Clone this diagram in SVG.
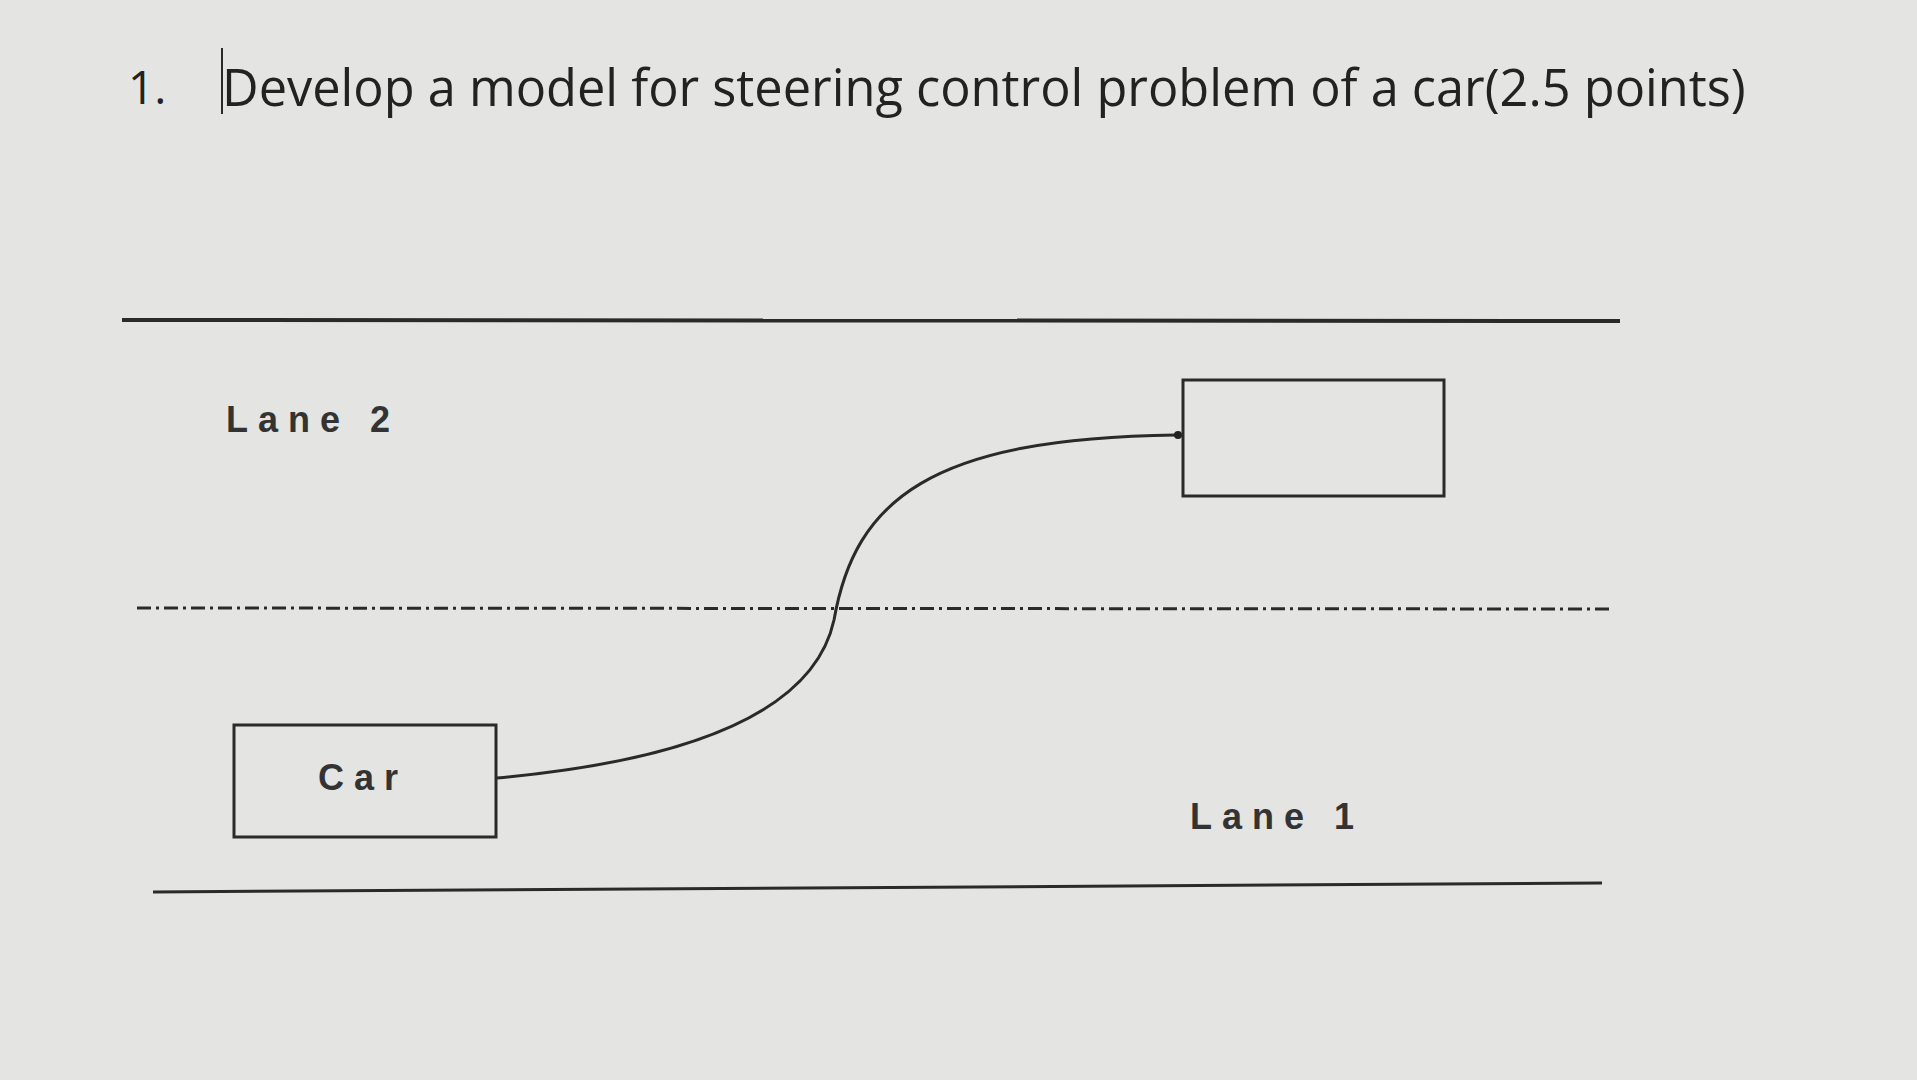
<svg xmlns="http://www.w3.org/2000/svg" width="1917" height="1080" viewBox="0 0 1917 1080">
<style>
.t{font-family:"Open Sans","Liberation Sans",sans-serif;fill:#222}
.l{font-family:"Liberation Sans",Arial,sans-serif;font-weight:bold;fill:#333;letter-spacing:10px}
.ln{stroke:#2a2a2a;fill:none}
</style>
<rect width="1917" height="1080" fill="#e4e4e2"/>
<text class="t" x="128" y="104" font-size="46">1.</text>
<text class="t" x="222" y="106" font-size="50.5">Develop a model for steering control problem of a car(2.5 points)</text>
<line class="ln" x1="222" y1="48" x2="222" y2="114" stroke-width="2"/>
<g id="road">
<line class="ln" x1="122" y1="320" x2="1620" y2="321" stroke-width="4"/>
<line class="ln" x1="137" y1="608" x2="1614" y2="609" stroke-width="3" stroke-dasharray="14,5,3,5"/>
<line class="ln" x1="153" y1="892" x2="1602" y2="883" stroke-width="3"/>
</g>
<g id="lane2"><text class="l" x="226" y="432" font-size="36">Lane 2</text></g>
<g id="lane1"><text class="l" x="1190" y="829" font-size="36">Lane 1</text></g>
<g id="target"><rect class="ln" x="1183" y="380" width="261" height="116" stroke-width="3"/></g>
<g id="car"><rect class="ln" x="234" y="725" width="262" height="112" stroke-width="3"/>
<text class="l" x="318" y="790" font-size="36">Car</text></g>
<g id="connectors">
<path class="ln" stroke-width="3" d="M497,778 C640,765 810,730 834,620 C855,500 930,438 1176,435"/>
<circle cx="1178" cy="435" r="4" fill="#222"/>
</g>
</svg>
